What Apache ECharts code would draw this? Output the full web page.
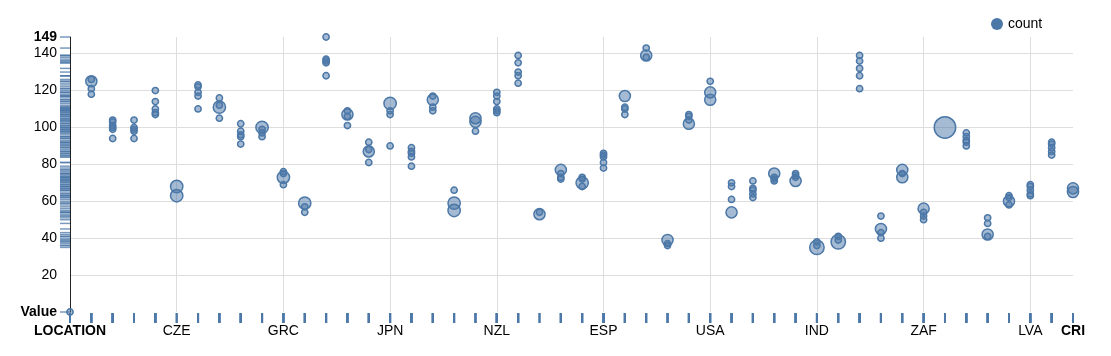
<!DOCTYPE html>
<html>
<head>
<meta charset="utf-8">
<script src="https://cdn.jsdelivr.net/npm/echarts@6/dist/echarts.min.js"></script>
<style>
html,body{margin:0;padding:0;background:#fff;}
#chart{width:1111px;height:356px;}
</style>
</head>
<body>
<div id="chart"></div>
<script>
// ---- data ----
const categories = ["LOCATION","AUS","AUT","BEL","CAN","CZE","DNK","FIN","FRA","DEU","GRC","HUN","ISL","IRL","ITA","JPN","KOR","LUX","MEX","NLD","NZL","NOR","POL","PRT","SVK","ESP","SWE","CHE","TUR","GBR","USA","BRA","CHL","CHN","EST","IND","IDN","ISR","RUS","SVN","ZAF","OECD","EA19","EU28","G-7","LVA","LTU","CRI"];
const values = [
  [0],
  [126,125,121,118],
  [104,103,101,100,99,94],
  [104,100,99,98,94],
  [120,114,110,108,107],
  [68,63],
  [123,122,119,117,110],
  [116,112,111,105],
  [102,98,96,95,91],
  [100,99,97,95],
  [76,75,73,69],
  [59,57,54],
  [149,137,136,135,128],
  [109,107,106,101],
  [92,88,87,81],
  [113,109,107,90],
  [89,87,86,84,79],
  [117,115,111,109],
  [66,59,55],
  [105,103,98],
  [119,117,114,110,109,108],
  [139,135,130,128,124],
  [54,53],
  [77,75,73,72],
  [73,72,70,68],
  [86,85,84,81,78],
  [117,111,110,107],
  [143,139,138],
  [39,37,36],
  [107,106,104,102],
  [125,119,115],
  [70,68,61,54],
  [71,67,66,64,62],
  [75,73,72,71],
  [75,74,73,71],
  [38,36,35],
  [41,39,38],
  [139,136,132,128,121],
  [52,45,43,40],
  [77,75,73],
  [56,54,52,50],
  [100],
  [97,95,93,92,90],
  [51,48,42,41],
  [63,62,60,58],
  [69,68,66,64,63],
  [92,91,89,87,85],
  [67,65]
];
const counts = [
  [1],
  [1,4,1,1],
  [1,1,1,1,1,1],
  [1,1,1,1,1],
  [1,1,1,1,1],
  [5,5],
  [1,1,1,1,1],
  [1,1,5,1],
  [1,1,1,1,1],
  [5,1,1,1],
  [1,1,5,1],
  [5,1,1],
  [1,1,1,1,1],
  [1,4,1,1],
  [1,1,4,1],
  [5,1,1,1],
  [1,1,1,1,1],
  [1,4,1,1],
  [1,5,5],
  [4,4,1],
  [1,1,1,1,1,1],
  [1,1,1,1,1],
  [1,4],
  [4,1,1,1],
  [1,1,5,1],
  [1,1,1,1,1],
  [4,1,1,1],
  [1,4,1],
  [4,1,1],
  [1,1,1,4],
  [1,4,4],
  [1,1,1,4],
  [1,1,1,1,1],
  [4,1,1,1],
  [1,1,1,4],
  [1,1,7],
  [1,1,7],
  [1,1,1,1,1],
  [1,4,1,1],
  [4,1,4],
  [4,1,1,1],
  [16],
  [1,1,1,1,1],
  [1,1,4,1],
  [1,1,4,1],
  [1,1,1,1,1],
  [1,1,1,1,1],
  [4,4]
];
const yMin = 0, yMax = 149, yStep = 20;
const yMinLabel = "Value";
const labelEvery = 5;

// ---- build ----
const points = [];
categories.forEach((c, i) => {
  values[i].forEach((v, j) => points.push([i, v, counts[i][j]]));
});
const maxCount = Math.max(...points.map(p => p[2]));
const BLUE = '#4c78a8';
const FONT = '"Liberation Sans", Arial, sans-serif';
function sizeOf(c) {
  const area = 9 + 352 * c / maxCount;
  return 2 * Math.sqrt(area / Math.PI);
}
const last = categories.length - 1;

const chart = echarts.init(document.getElementById('chart'), null, {renderer: 'canvas'});
chart.setOption({
  animation: false,
  textStyle: {fontFamily: FONT},
  grid: {left: 70, right: 38, top: 37, bottom: 44, containLabel: false},
  legend: {
    left: 986, top: 12,
    itemWidth: 12, itemHeight: 12, itemGap: 10,
    textStyle: {fontSize: 14, color: '#000', fontFamily: FONT},
    data: [{name: 'count', icon: 'circle', itemStyle: {color: BLUE, opacity: 1, borderWidth: 0}}]
  },
  xAxis: {
    type: 'category',
    data: categories,
    boundaryGap: false,
    axisLine: {show: false},
    axisTick: {show: false},
    axisLabel: {
      interval: (idx) => idx % labelEvery === 0 || idx === last,
      margin: 12,
      fontSize: 14,
      color: '#000',
      fontFamily: FONT,
      formatter: (v, idx) => (idx === 0 || idx === last) ? '{b|' + v + '}' : v,
      rich: {b: {fontWeight: 'bold', fontSize: 14, color: '#000', fontFamily: FONT}}
    },
    splitLine: {
      show: true,
      interval: (idx) => idx % labelEvery === 0 && idx !== 0,
      lineStyle: {color: '#ddd', width: 1}
    }
  },
  yAxis: {
    type: 'value',
    min: yMin, max: yMax, interval: yStep,
    axisLine: {show: true, lineStyle: {color: '#222', width: 1}},
    axisTick: {show: false},
    axisLabel: {
      margin: 13,
      fontSize: 14,
      color: '#000',
      fontFamily: FONT,
      showMaxLabel: true, showMinLabel: true,
      formatter: (v) => v === yMin ? '{b|' + yMinLabel + '}' : (v === yMax ? '{b|' + v + '}' : String(v)),
      rich: {b: {fontWeight: 'bold', fontSize: 14, color: '#000', fontFamily: FONT}}
    },
    splitLine: {
      show: true,
      lineStyle: {color: ['rgba(0,0,0,0)', '#ddd', '#ddd', '#ddd', '#ddd', '#ddd', '#ddd', '#ddd', 'rgba(0,0,0,0)'], width: 1}
    }
  },
  series: [
    {
      type: 'custom',
      name: 'yrug',
      clip: false,
      silent: true,
      data: points.map(p => [p[0], p[1]]),
      encode: {x: 0, y: 1},
      renderItem: (params, api) => {
        const pt = api.coord([api.value(0), api.value(1)]);
        const x0 = params.coordSys.x;
        return {type: 'line', shape: {x1: x0 - 10, y1: pt[1], x2: x0, y2: pt[1]},
                style: {stroke: BLUE, lineWidth: 1.5, opacity: 0.75}};
      }
    },
    {
      type: 'custom',
      name: 'xrug',
      clip: false,
      silent: true,
      data: points.map(p => [p[0], p[1]]),
      encode: {x: 0, y: 1},
      renderItem: (params, api) => {
        const pt = api.coord([api.value(0), api.value(1)]);
        const yb = params.coordSys.y + params.coordSys.height;
        return {type: 'line', shape: {x1: pt[0], y1: yb + 1, x2: pt[0], y2: yb + 11},
                style: {stroke: BLUE, lineWidth: 2, opacity: 1}};
      }
    },
    {
      type: 'scatter',
      name: 'count',
      clip: false,
      data: points,
      symbolSize: (d) => sizeOf(d[2]),
      itemStyle: {color: 'rgba(76,120,168,0.5)', borderColor: BLUE, borderWidth: 1.5, opacity: 1},
      z: 3
    }
  ]
});
</script>
</body>
</html>
